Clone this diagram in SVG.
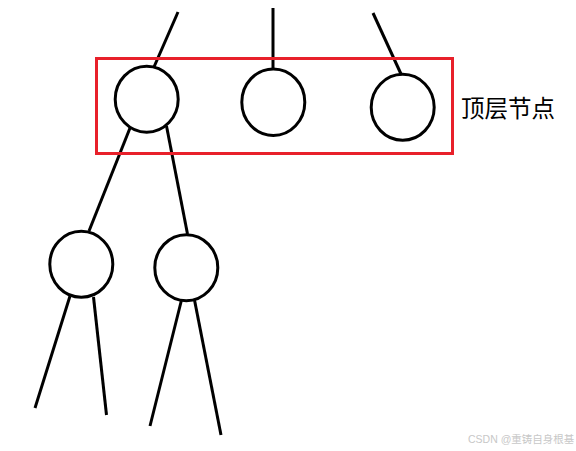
<svg xmlns="http://www.w3.org/2000/svg" width="576" height="451" viewBox="0 0 576 451">
<style>
.n{fill:#fff;stroke:#000;stroke-width:3}
.e{stroke:#000;stroke-width:3;fill:none;stroke-linecap:butt}
</style>
<rect width="576" height="451" fill="#fff"/>
<g id="connectors">
<line class="e" x1="178" y1="12" x2="154" y2="67"/>
<line class="e" x1="273" y1="8" x2="273" y2="69"/>
<line class="e" x1="373" y1="13" x2="401" y2="74"/>
<line class="e" x1="130" y1="128" x2="89" y2="231"/>
<line class="e" x1="166.5" y1="126" x2="187.5" y2="234"/>
<line class="e" x1="70" y1="296" x2="35" y2="408"/>
<line class="e" x1="93.5" y1="297" x2="106.5" y2="415"/>
<line class="e" x1="181.5" y1="300" x2="150" y2="426"/>
<line class="e" x1="194.5" y1="300" x2="221" y2="435"/>
</g>
<g id="top-group">
<rect x="96.5" y="58.5" width="356" height="95" fill="none" stroke="#e8202a" stroke-width="3"/>
<text x="461" y="116.5" font-family="'Noto Sans CJK SC', sans-serif" font-size="23.5" fill="#000">顶层节点</text>
</g>
<g id="node1"><ellipse class="n" cx="146.7" cy="99.2" rx="31.5" ry="33"/></g>
<g id="node2"><ellipse class="n" cx="273.3" cy="102.2" rx="31.5" ry="33.3"/></g>
<g id="node3"><ellipse class="n" cx="402.7" cy="107.3" rx="31.5" ry="33"/></g>
<g id="node4"><ellipse class="n" cx="81.3" cy="264.3" rx="31.5" ry="33"/></g>
<g id="node5"><ellipse class="n" cx="186.3" cy="267.7" rx="31.5" ry="33"/></g>
<text x="468" y="443" font-family="'Liberation Sans','Noto Sans CJK SC', sans-serif" font-size="10.5" fill="#c8c8c8">CSDN @重铸自身根基</text>
</svg>
